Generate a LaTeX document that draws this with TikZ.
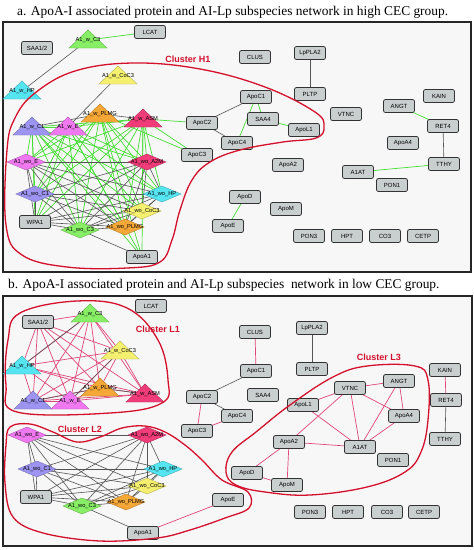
\documentclass[tikz,border=0pt]{standalone}
\usepackage{fontspec}
\setmainfont{Liberation Serif}
\newfontfamily\labelfont{Liberation Sans}
\usetikzlibrary{positioning}
\definecolor{EdgeGreen}{HTML}{44DD33}
\definecolor{EdgePink}{HTML}{E0457B}
\definecolor{EdgeGray}{HTML}{555555}
\definecolor{BoxGray}{HTML}{C9CFCF}
\definecolor{ClusterRed}{HTML}{D4102C}
\definecolor{PanelBg}{HTML}{F7F7F7}
\definecolor{ColC3}{HTML}{88EE66}
\definecolor{ColHP}{HTML}{55E5F0}
\definecolor{ColCoC3}{HTML}{F5F070}
\definecolor{ColPLMG}{HTML}{F5A838}
\definecolor{ColASM}{HTML}{F03C78}
\definecolor{ColC1}{HTML}{9C94F0}
\definecolor{ColE}{HTML}{F078F0}
\pgfdeclarelayer{panel}
\pgfdeclarelayer{links}
\pgfsetlayers{panel,links,main}
\tikzset{
  prot/.style={rectangle,rounded corners=2pt,draw=black!80,fill=BoxGray,line width=0.8pt,minimum width=31pt,minimum height=13pt,inner sep=1pt,font=\labelfont\fontsize{6}{7}\selectfont},
  subtext/.style={inner sep=0pt,font=\labelfont\fontsize{5.7}{6.5}\selectfont},
  tripatch/.style={fill=#1,draw=#1!75!black,line width=0.4pt},
  greenlink/.style={EdgeGreen,line width=0.7pt},
  pinklink/.style={EdgePink,line width=0.7pt},
  graylink/.style={EdgeGray,line width=0.6pt},
  cluster/.style={ClusterRed,line width=1.3pt},
  clustername/.style={text=ClusterRed,font=\labelfont\bfseries\fontsize{9}{10}\selectfont},
  paneltitle/.style={anchor=west,inner sep=0pt,font=\fontsize{13.4}{15}\selectfont},
  panelbox/.style={draw=black!85,line width=1.5pt,fill=PanelBg},
}
% subspecies shapes: name, x, y, colour, text
\newcommand{\subtri}[5]{%
  \filldraw[tripatch=#4] (#2,#3) ++(-19,9) -- ++(38,0) -- ++(-19,-18) -- cycle;
  \node[subtext] (#1) at (#2,#3+1) {#5};}
\newcommand{\subdia}[5]{%
  \filldraw[tripatch=#4] (#2,#3) ++(-19,0) -- ++(19,-8) -- ++(19,8) -- ++(-19,8) -- cycle;
  \node[subtext] (#1) at (#2,#3) {#5};}
\begin{document}
\begin{tikzpicture}[x=1pt,y=-1pt]
  \useasboundingbox (0,0) rectangle (474,550);
  \node[paneltitle] (titlea) at (17,12) {a. ApoA-I associated protein and AI-Lp subspecies network in high CEC group.};
  \node[paneltitle] (titleb) at (8,285) {b. ApoA-I associated protein and AI-Lp subspecies\ \ network in low CEC group.};
  \begin{pgfonlayer}{panel}
    \draw[panelbox] (3,22) rectangle (471,272);
    \draw[panelbox] (3,296) rectangle (472,546);
  \end{pgfonlayer}

  % ── Panel a: high CEC ──
  \node[prot] (aLCAT) at (150,32) {LCAT};
  \node[prot] (aSAA12) at (37,48) {SAA1/2};
  \subtri{awC3}{88}{39}{ColC3}{A1\_w\_C3}
  \subtri{awHP}{22}{90}{ColHP}{A1\_w\_HP}
  \subtri{awCoC3}{118}{75}{ColCoC3}{A1\_w\_CoC3}
  \subtri{awPLMG}{100}{113}{ColPLMG}{A1\_w\_PLMG}
  \subtri{awASM}{143}{118}{ColASM}{A1\_w\_ASM}
  \subtri{awC1}{32}{126}{ColC1}{A1\_w\_C1}
  \subtri{awE}{68}{126}{ColE}{A1\_w\_E}
  \subdia{awoE}{26}{162}{ColE}{A1\_wo\_E}
  \subdia{awoA2M}{147}{162}{ColASM}{A1\_wo\_A2M}
  \subdia{awoC1}{35}{194}{ColC1}{A1\_wo\_C1}
  \subdia{awoHP}{162}{194}{ColHP}{A1\_wo\_HP}
  \subdia{awoCoC3}{142}{211}{ColCoC3}{A1\_wo\_CoC3}
  \subdia{awoPLMG}{125}{227}{ColPLMG}{A1\_wo\_PLMG}
  \subdia{awoC3}{80}{230}{ColC3}{A1\_wo\_C3}
  \node[prot] (aWPA1) at (35,222) {WPA1};
  \node[prot] (aApoA1) at (142,257) {ApoA1};
  \node[prot] (aApoC2) at (202,123) {ApoC2};
  \node[prot] (aApoC3) at (197,155) {ApoC3};
  \node[prot] (aApoE) at (228,226) {ApoE};
  \node[prot] (aCLUS) at (255,57) {CLUS};
  \node[prot] (aLpPLA2) at (310,53) {LpPLA2};
  \node[prot] (aPLTP) at (310,94) {PLTP};
  \node[prot] (aApoC1) at (256,97) {ApoC1};
  \node[prot] (aSAA4) at (263,119) {SAA4};
  \node[prot] (aApoL1) at (304,130) {ApoL1};
  \node[prot] (aApoC4) at (237,143) {ApoC4};
  \node[prot] (aVTNC) at (346,114) {VTNC};
  \node[prot] (aANGT) at (399,106) {ANGT};
  \node[prot] (aKAIN) at (439,96) {KAIN};
  \node[prot] (aRET4) at (443,126) {RET4};
  \node[prot] (aApoA4) at (403,143) {ApoA4};
  \node[prot] (aApoA2) at (288,165) {ApoA2};
  \node[prot] (aA1AT) at (358,172) {A1AT};
  \node[prot] (aTTHY) at (444,164) {TTHY};
  \node[prot] (aPON1) at (392,185) {PON1};
  \node[prot] (aApoD) at (245,197) {ApoD};
  \node[prot] (aApoM) at (286,209) {ApoM};
  \node[prot] (aPON3) at (309,236) {PON3};
  \node[prot] (aHPT) at (347,236) {HPT};
  \node[prot] (aCO3) at (385,236) {CO3};
  \node[prot] (aCETP) at (423,236) {CETP};
  \node[clustername] (labelH1) at (188,59) {Cluster H1};
  \draw[cluster] plot[smooth cycle,tension=0.65] coordinates {(133,63) (200,69) (265,87) (315,112) (324,127) (316,138) (283,142) (240,150) (210,162) (192,180) (180,210) (172,240) (160,262) (127,268) (67,267) (22,255) (6,225) (7,150) (15,118) (35,93) (75,71)};

  % ── Panel b: low CEC ──
  \node[prot] (bLCAT) at (151,306) {LCAT};
  \node[prot] (bSAA12) at (38,322) {SAA1/2};
  \subtri{bwC3}{90}{313}{ColC3}{A1\_w\_C3}
  \subtri{bwCoC3}{120}{350}{ColCoC3}{A1\_w\_CoC3}
  \subtri{bwHP}{22}{365}{ColHP}{A1\_w\_HP}
  \subtri{bwPLMG}{100}{387}{ColPLMG}{A1\_w\_PLMG}
  \subtri{bwASM}{145}{393}{ColASM}{A1\_w\_ASM}
  \subtri{bwC1}{33}{400}{ColC1}{A1\_w\_C1}
  \subtri{bwE}{70}{400}{ColE}{A1\_w\_E}
  \subdia{bwoE}{27}{435}{ColE}{A1\_wo\_E}
  \subdia{bwoA2M}{147}{435}{ColASM}{A1\_wo\_A2M}
  \subdia{bwoC1}{37}{469}{ColC1}{A1\_wo\_C1}
  \subdia{bwoHP}{163}{469}{ColHP}{A1\_wo\_HP}
  \subdia{bwoCoC3}{147}{486}{ColCoC3}{A1\_wo\_CoC3}
  \subdia{bwoPLMG}{126}{502}{ColPLMG}{A1\_wo\_PLMG}
  \subdia{bwoC3}{82}{506}{ColC3}{A1\_wo\_C3}
  \node[prot] (bWPA1) at (36,497) {WPA1};
  \node[prot] (bApoA1) at (143,533) {ApoA1};
  \node[prot] (bApoE) at (228,500) {ApoE};
  \node[prot] (bApoC3) at (197,431) {ApoC3};
  \node[prot] (bApoC2) at (202,397) {ApoC2};
  \node[prot] (bApoC4) at (237,416) {ApoC4};
  \node[prot] (bApoC1) at (256,371) {ApoC1};
  \node[prot] (bSAA4) at (263,395) {SAA4};
  \node[prot] (bCLUS) at (255,332) {CLUS};
  \node[prot] (bLpPLA2) at (312,328) {LpPLA2};
  \node[prot] (bPLTP) at (312,369) {PLTP};
  \node[prot] (bVTNC) at (350,388) {VTNC};
  \node[prot] (bANGT) at (399,381) {ANGT};
  \node[prot] (bApoL1) at (303,405) {ApoL1};
  \node[prot] (bApoA4) at (404,416) {ApoA4};
  \node[prot] (bKAIN) at (445,370) {KAIN};
  \node[prot] (bRET4) at (446,400) {RET4};
  \node[prot] (bTTHY) at (445,439) {TTHY};
  \node[prot] (bApoA2) at (289,442) {ApoA2};
  \node[prot] (bA1AT) at (360,447) {A1AT};
  \node[prot] (bPON1) at (393,460) {PON1};
  \node[prot] (bApoD) at (247,473) {ApoD};
  \node[prot] (bApoM) at (287,485) {ApoM};
  \node[prot] (bPON3) at (310,512) {PON3};
  \node[prot] (bHPT) at (348,512) {HPT};
  \node[prot] (bCO3) at (387,512) {CO3};
  \node[prot] (bCETP) at (424,512) {CETP};
  \node[clustername] (labelL1) at (158,329) {Cluster L1};
  \node[clustername] (labelL2) at (80,429) {Cluster L2};
  \node[clustername] (labelL3) at (379,357) {Cluster L3};
  \draw[cluster] plot[smooth cycle,tension=0.65] coordinates {(20,313) (77,301) (127,308) (158,340) (168,380) (162,403) (110,413) (17,412) (6,385) (8,340)};
  \draw[cluster] plot[smooth cycle,tension=0.6] coordinates {(10,427) (30,424) (53,432) (77,442) (100,437) (122,428) (145,426) (165,432) (185,445) (202,460) (222,480) (248,492) (249,508) (225,518) (190,530) (157,538) (100,541) (43,533) (13,517) (5,483) (6,445)};
  \draw[cluster] plot[smooth cycle,tension=0.65] coordinates {(226,472) (232,452) (256,432) (290,405) (333,377) (367,366) (415,366) (428,380) (428,420) (421,452) (405,472) (367,487) (310,495) (265,492) (236,485)};

  % ── Links ──
  \begin{pgfonlayer}{links}
    \foreach \a in {awC1,awE,awPLMG,awASM}
      \foreach \b in {awoE,awoA2M,awoC1,awoHP,awoCoC3,awoPLMG,awoC3,aWPA1,aApoA1}
        \draw[greenlink] (\a.center) -- (\b.center);
    \foreach \a [count=\i] in {awoE,awoA2M,awoC1,awoHP,awoCoC3,awoPLMG,awoC3,aWPA1}
      \foreach \b [count=\j] in {awoE,awoA2M,awoC1,awoHP,awoCoC3,awoPLMG,awoC3,aWPA1}
        {\ifnum\j>\i\relax \draw[graylink] (\a.center) -- (\b.center);\fi}
    \foreach \a/\b in {awC1/awE,awE/awASM,awC1/awASM,awASM/aApoC2,awASM/aApoC3,awPLMG/aApoC3,awC3/aLCAT,aApoC1/aSAA4,aApoC1/aApoC4,aSAA4/aApoL1,aANGT/aRET4,aTTHY/aA1AT,aApoD/aApoE}
      \draw[greenlink] (\a.center) -- (\b.center);
    \foreach \a/\b in {awC3/awHP,awCoC3/awE,awC1/awPLMG,awPLMG/awASM,aApoC2/aApoC1,aApoC2/aApoC4,aLpPLA2/aPLTP,aRET4/aTTHY,awoC3/aApoA1}
      \draw[graylink] (\a.center) -- (\b.center);

    \foreach \a [count=\i] in {bSAA12,bwC3,bwCoC3,bwHP,bwPLMG,bwASM,bwC1,bwE}
      \foreach \b [count=\j] in {bSAA12,bwC3,bwCoC3,bwHP,bwPLMG,bwASM,bwC1,bwE}
        {\ifnum\j>\i\relax \draw[pinklink] (\a.center) -- (\b.center);\fi}
    \foreach \a [count=\i] in {bwoE,bwoA2M,bwoC1,bwoHP,bwoCoC3,bwoPLMG,bwoC3,bWPA1}
      \foreach \b [count=\j] in {bwoE,bwoA2M,bwoC1,bwoHP,bwoCoC3,bwoPLMG,bwoC3,bWPA1}
        {\ifnum\j>\i\relax \draw[graylink] (\a.center) -- (\b.center);\fi}
    \foreach \a/\b in {bwC3/bwHP,bwCoC3/bwE,bwC1/bwPLMG,bwPLMG/bwASM,bwoC3/bApoA1,bApoC1/bApoC2,bApoC2/bApoC4,bLpPLA2/bPLTP,bRET4/bTTHY}
      \draw[graylink] (\a.center) -- (\b.center);
    \foreach \a/\b in {bApoA1/bApoE,bCLUS/bApoC1,bApoC2/bApoC3,bApoC3/bApoC4,bKAIN/bRET4,bVTNC/bApoL1,bVTNC/bANGT,bVTNC/bA1AT,bVTNC/bApoA4,bVTNC/bApoA2,bANGT/bApoA4,bANGT/bA1AT,bApoL1/bA1AT,bApoA4/bA1AT,bApoA2/bA1AT,bApoA2/bApoD,bApoA2/bApoM,bApoD/bApoM}
      \draw[pinklink] (\a.center) -- (\b.center);
  \end{pgfonlayer}
\end{tikzpicture}
\end{document}
